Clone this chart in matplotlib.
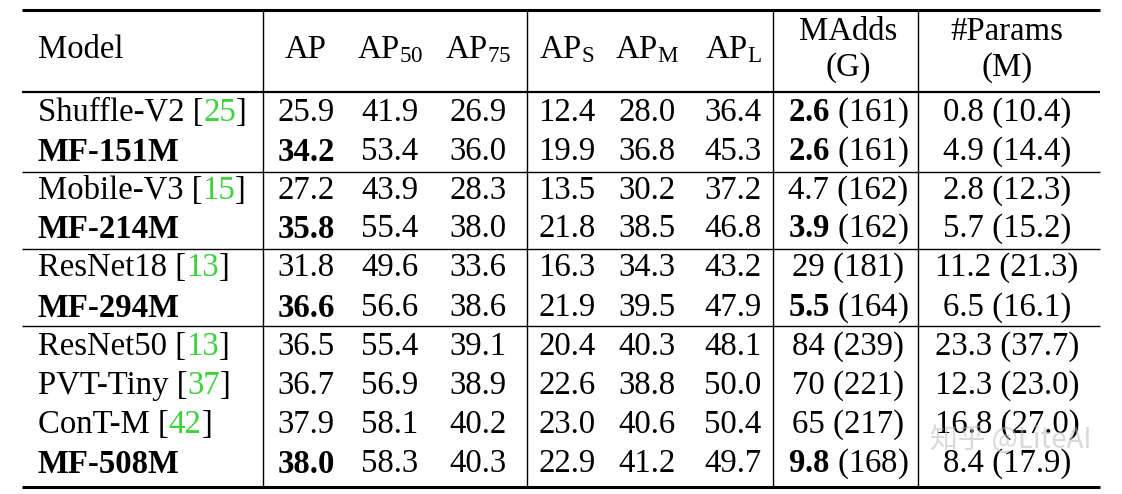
import matplotlib
matplotlib.use("Agg")
import matplotlib.pyplot as plt

plt.rcParams['mathtext.fontset'] = 'custom'
plt.rcParams['mathtext.rm'] = 'Liberation Serif'
plt.rcParams['mathtext.bf'] = 'Liberation Serif:bold'
plt.rcParams['mathtext.it'] = 'Liberation Serif:italic'
FONT = 'Liberation Serif'

headers = ["Model", "AP", r"AP$_{50}$", r"AP$_{75}$", r"AP$_{\mathrm{S}}$", r"AP$_{\mathrm{M}}$", r"AP$_{\mathrm{L}}$", "MAdds\n(G)", "#Params\n(M)"]
models = ["Shuffle-V2", "MF-151M", "Mobile-V3", "MF-214M", "ResNet18", "MF-294M", "ResNet50", "PVT-Tiny", "ConT-M", "MF-508M"]
refs = ["25", None, "15", None, "13", None, "13", "37", "42", None]
ap = ["25.9", "34.2", "27.2", "35.8", "31.8", "36.6", "36.5", "36.7", "37.9", "38.0"]
ap50 = ["41.9", "53.4", "43.9", "55.4", "49.6", "56.6", "55.4", "56.9", "58.1", "58.3"]
ap75 = ["26.9", "36.0", "28.3", "38.0", "33.6", "38.6", "39.1", "38.9", "40.2", "40.3"]
aps = ["12.4", "19.9", "13.5", "21.8", "16.3", "21.9", "20.4", "22.6", "23.0", "22.9"]
apm = ["28.0", "36.8", "30.2", "38.5", "34.3", "39.5", "40.3", "38.8", "40.6", "41.2"]
apl = ["36.4", "45.3", "37.2", "46.8", "43.2", "47.9", "48.1", "50.0", "50.4", "49.7"]
madds = ["2.6", "2.6", "4.7", "3.9", "29", "5.5", "84", "70", "65", "9.8"]
madds_all = ["161", "161", "162", "162", "181", "164", "239", "221", "217", "168"]
madds_bold = [True, True, False, True, False, True, False, False, False, True]
params = ["0.8 (10.4)", "4.9 (14.4)", "2.8 (12.3)", "5.7 (15.2)", "11.2 (21.3)", "6.5 (16.1)", "23.3 (37.7)", "12.3 (23.0)", "16.8 (27.0)", "8.4 (17.9)"]
ap_bold = [False, True, False, True, False, True, False, False, False, True]

W, H = 1122, 494
fig = plt.figure(figsize=(W/100, H/100), dpi=100)
ax = fig.add_axes([0, 0, 1, 1])
ax.set_xlim(0, W); ax.set_ylim(H, 0); ax.axis('off')

fs = 23.6
row_y = [113, 152, 191, 229, 268, 308, 347, 386, 425, 464]
col_x = [306, 390, 478, 567, 647, 733, 848, 1007]

for y, lw in [(10, 2.2), (92, 1.6), (172, 1.0), (249, 1.0), (326, 1.0), (487, 2.2)]:
    ax.plot([22, 1100], [y, y], color='black', lw=lw, solid_capstyle='butt')
for x in [263, 527, 773, 918]:
    ax.plot([x, x], [10, 487], color='black', lw=1.0)

ax.text(38, 50, headers[0], fontsize=fs, family=FONT, ha='left', va='center')
for h, x in zip(headers[1:], col_x):
    ax.text(x, 50, h, fontsize=fs, family=FONT, ha='center', va='center', linespacing=1.2)

fig.canvas.draw()

def chain(x, y, pieces):
    t = None
    for s, c, w in pieces:
        if t is None:
            t = ax.text(x, y, s, fontsize=fs, family=FONT, color=c, weight=w, ha='left', va='center')
        else:
            t = ax.annotate(s, xy=(1, 0), xycoords=t, xytext=(0, 0), textcoords='offset points',
                            fontsize=fs, family=FONT, color=c, weight=w, ha='left', va='bottom')

green = '#3cd23c'
for i, y in enumerate(row_y):
    if refs[i]:
        chain(38, y, [(models[i] + " [", 'black', 'normal'), (refs[i], green, 'normal'), ("]", 'black', 'normal')])
    else:
        ax.text(38, y, models[i], fontsize=fs, family=FONT, weight='bold', ha='left', va='center')
    vals = [ap[i], ap50[i], ap75[i], aps[i], apm[i], apl[i]]
    for j, v in enumerate(vals):
        ax.text(col_x[j], y, v, fontsize=fs, family=FONT, ha='center', va='center',
                weight='bold' if (j == 0 and ap_bold[i]) else 'normal')
    m = (r'$\mathbf{%s}$' % madds[i]) if madds_bold[i] else madds[i]
    ax.text(col_x[6], y, m + " (" + madds_all[i] + ")", fontsize=fs, family=FONT, ha='center', va='center')
    ax.text(col_x[7], y, params[i], fontsize=fs, family=FONT, ha='center', va='center')

ax.text(1092, 440, "知乎 @LiteAI", fontsize=20, family=['Noto Sans CJK SC', 'DejaVu Sans'],
        color='#bbbbbb', alpha=0.55, ha='right', va='center')

fig.savefig("out.png", dpi=100)
